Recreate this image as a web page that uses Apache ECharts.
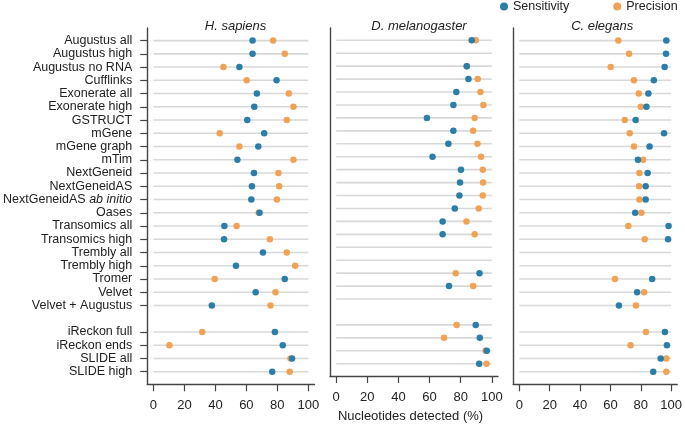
<!DOCTYPE html>
<html>
<head>
<meta charset="utf-8">
<script src="https://cdn.jsdelivr.net/npm/echarts@6.0.0/dist/echarts.min.js"></script>
<style>
  html, body { margin: 0; padding: 0; background: #fff; }
  #chart { width: 685px; height: 428px; }
</style>
</head>
<body>
<div id="chart"></div>
<script>
// categories, '' is the gap row
const methods = [
  'Augustus all', 'Augustus high', 'Augustus no RNA', 'Cufflinks', 'Exonerate all',
  'Exonerate high', 'GSTRUCT', 'mGene', 'mGene graph', 'mTim', 'NextGeneid',
  'NextGeneidAS', 'NextGeneidAS ab initio', 'Oases', 'Transomics all', 'Transomics high',
  'Trembly all', 'Trembly high', 'Tromer', 'Velvet', 'Velvet + Augustus', '',
  'iReckon full', 'iReckon ends', 'SLIDE all', 'SLIDE high'
];

const species = ['H. sapiens', 'D. melanogaster', 'C. elegans'];
const xTicks = [0, 20, 40, 60, 80, 100];

// H. sapiens
const hsSensitivity = [64, 64, 55.5, 79.5, 66.8, 65.1, 60.6, 71.5, 67.7, 54.2, 64.9, 63.6, 63.2, 68.5, 45.8, 45.6, 70.7, 53.3, 84.8, 66, 37.7, null, 78.4, 83.5, 89.5, 76.7];
const hsPrecision = [77.3, 84.8, 45.2, 60.2, 87.4, 90.4, 86.1, 42.8, 55.5, 90.4, 80.7, 81.2, 79.7, 68, 53.7, 75.2, 86.1, 91.5, 39.6, 78.8, 75.6, null, 31.5, 10.3, 88.5, 88];

// D. melanogaster
const dmSensitivity = [87.1, null, 83.9, 85, 77.2, 75.3, 58.3, 75.3, 72.1, 61.9, 80.2, 79.6, 79.2, 76.2, 68.4, 68.4, null, null, 92.1, 72.5, null, null, 89.7, 92.3, 96.8, 91.9];
const dmPrecision = [89.7, null, 84, 91, 92.7, 94.6, 89, 88, 90.8, 93.1, 94.2, 94.4, 94.2, 91.6, 83.7, 89, null, null, 76.8, 88, null, null, 77.4, 69.3, 96, 96.6];

// C. elegans
const ceSensitivity = [96.8, 96.6, 95.7, 88.6, 85, 83.7, 76.6, 95.3, 85.8, 78.1, 84.5, 83.2, 83.2, 76.3, 98.3, 98, null, null, 87.5, 77.6, 65.6, null, 95.9, 97.2, 93.1, 88.2];
const cePrecision = [65.2, 72.3, 60.2, 75.5, 78.7, 80, 69.5, 72.7, 75.5, 81.5, 79.1, 78.9, 79.1, 80.4, 71.8, 82.6, null, null, 63, 82.2, 76.8, null, 83.4, 73.3, 96.8, 96.8];

const panels = [
  { sens: hsSensitivity, prec: hsPrecision },
  { sens: dmSensitivity, prec: dmPrecision },
  { sens: ceSensitivity, prec: cePrecision }
];

const BLUE = '#2b7ea8';
const ORANGE = '#f2a255';
const FONT = '"Liberation Sans", Arial, sans-serif';

// rows that carry a label and a guide line
const rowIdx = methods.map((m, i) => i).filter(i => methods[i] !== '');

const gridLeft = [146.5, 330, 513.2];
const gridWidth = 168;

function toPoints(arr) {
  const pts = [];
  arr.forEach((v, i) => { if (v !== null) pts.push([v, i]); });
  return pts;
}

function labelFor(v) {
  const name = methods[Math.round(v)] || '';
  if (name === 'NextGeneidAS ab initio') return '{n|NextGeneidAS }{i|ab initio}';
  return '{n|' + name + '}';
}

const grids = [], xAxes = [], yAxes = [], titles = [], series = [];

panels.forEach((p, k) => {
  grids.push({ left: gridLeft[k], width: gridWidth, top: 28, height: 356.3 });

  titles.push({
    text: species[k],
    left: gridLeft[k] + gridWidth / 2,
    top: 15,
    textAlign: 'center',
    textStyle: { fontFamily: FONT, fontSize: 13, fontStyle: 'italic', fontWeight: 'normal', color: '#222' }
  });

  xAxes.push({
    gridIndex: k,
    type: 'value',
    position: 'bottom',
    min: -4,
    max: 104,
    name: k === 1 ? 'Nucleotides detected (%)' : '',
    nameLocation: 'middle',
    nameGap: 34,
    nameTextStyle: { fontFamily: FONT, fontSize: 13, color: '#222', padding: [0, 7, 0, 0] },
    axisLine: { show: true, onZero: false, lineStyle: { color: '#444', width: 1.4 } },
    axisTick: { show: true, length: 7, customValues: xTicks, lineStyle: { color: '#444', width: 1.2 } },
    axisLabel: { customValues: xTicks, margin: 15, fontFamily: FONT, fontSize: 13, color: '#222' },
    splitLine: { show: false }
  });

  yAxes.push({
    gridIndex: k,
    type: 'value',
    position: 'left',
    inverse: true,
    min: -0.95,
    max: 25.95,
    axisLine: { show: true, onZero: false, lineStyle: { color: '#444', width: 1.4 } },
    axisTick: { show: k === 0, length: 7, customValues: rowIdx, lineStyle: { color: '#444', width: 1.2 } },
    axisLabel: {
      show: k === 0,
      customValues: rowIdx,
      margin: 15,
      formatter: labelFor,
      rich: {
        n: { fontFamily: FONT, fontSize: 12.5, color: '#222' },
        i: { fontFamily: FONT, fontSize: 12.5, color: '#222', fontStyle: 'italic' }
      }
    },
    splitLine: { show: false }
  });

  // light guide line per row, 0..100
  series.push({
    type: 'custom',
    xAxisIndex: k,
    yAxisIndex: k,
    silent: true,
    data: rowIdx.map(i => [0, i]),
    renderItem: (params, api) => {
      const a = api.coord([0, api.value(1)]);
      const b = api.coord([100, api.value(1)]);
      return {
        type: 'line',
        shape: { x1: a[0], y1: a[1], x2: b[0], y2: b[1] },
        style: { stroke: '#d8d8d8', lineWidth: 1.6 }
      };
    },
    z: 1
  });

  series.push({
    name: 'Precision',
    type: 'scatter',
    xAxisIndex: k,
    yAxisIndex: k,
    symbolSize: 6.5,
    itemStyle: { color: ORANGE, opacity: 1 },
    data: toPoints(p.prec),
    z: 3
  });

  series.push({
    name: 'Sensitivity',
    type: 'scatter',
    xAxisIndex: k,
    yAxisIndex: k,
    symbolSize: 6.5,
    itemStyle: { color: BLUE, opacity: 1 },
    data: toPoints(p.sens),
    z: 4
  });
});

const chart = echarts.init(document.getElementById('chart'), null, { renderer: 'canvas' });
chart.setOption({
  animation: false,
  backgroundColor: '#fff',
  title: titles,
  legend: {
    data: ['Sensitivity', 'Precision'],
    orient: 'horizontal',
    left: 500,
    top: 0,
    width: 185,
    padding: [0, 0, 0, 0],
    icon: 'circle',
    itemWidth: 8,
    itemHeight: 8,
    itemGap: 44,
    textStyle: { fontFamily: FONT, fontSize: 12.5, color: '#222' }
  },
  grid: grids,
  xAxis: xAxes,
  yAxis: yAxes,
  series: series
});
</script>
</body>
</html>
